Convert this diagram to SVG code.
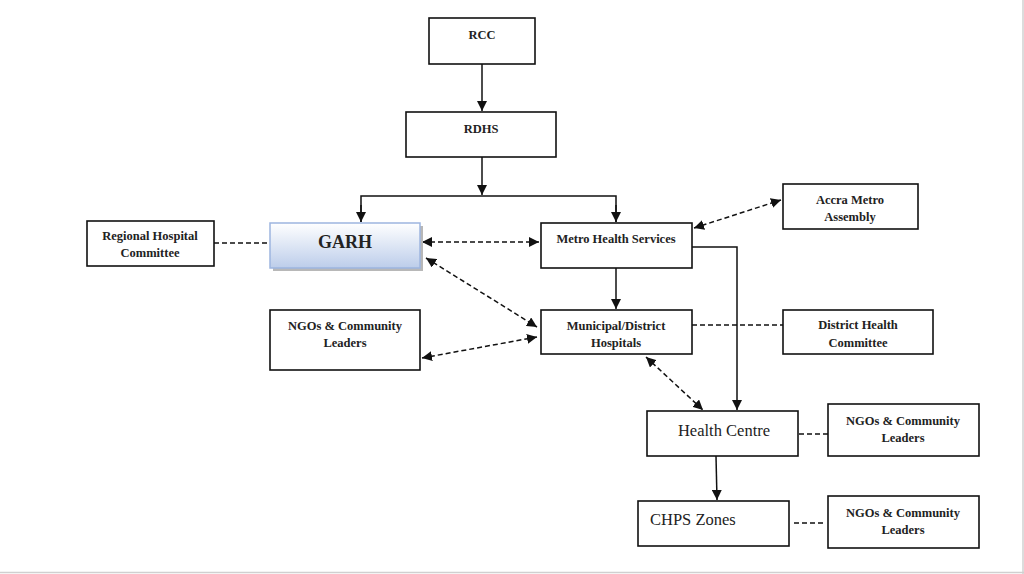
<svg xmlns="http://www.w3.org/2000/svg" width="1024" height="574" viewBox="0 0 1024 574">
<defs>
<style>
.box{fill:#fff;stroke:#111;stroke-width:1.6}
.t{font-family:"Liberation Serif","Times New Roman",serif;font-size:12.5px;font-weight:bold;fill:#222;text-anchor:middle}
.tl{font-family:"Liberation Serif","Times New Roman",serif;font-size:16.5px;fill:#222}
.s{fill:none;stroke:#111;stroke-width:1.5}
.d{fill:none;stroke:#111;stroke-width:1.5;stroke-dasharray:5,3}
</style>
<linearGradient id="g" x1="0" y1="0" x2="0" y2="1">
<stop offset="0" stop-color="#ffffff"/>
<stop offset="1" stop-color="#bccdea"/>
</linearGradient>
<marker id="b" viewBox="0 0 10 10" refX="10" refY="5" markerWidth="10" markerHeight="10" markerUnits="userSpaceOnUse" orient="auto-start-reverse">
<path d="M0,0 L10,5 L0,10 z" fill="#111"/>
</marker>
</defs>
<rect width="1024" height="574" fill="#fff"/>
<line x1="0" y1="572.5" x2="1024" y2="572.5" stroke="#d0d0d0" stroke-width="1.5"/>
<line x1="1023" y1="0" x2="1023" y2="574" stroke="#d0d0d0" stroke-width="1.5"/>

<g id="connectors">
<path class="s" d="M482,64 V111" marker-end="url(#b)"/>
<path class="s" d="M482,157 V195" marker-end="url(#b)"/>
<path class="s" d="M361,222 V196 H616 V222"/>
<path class="s" d="M361,205 V222" marker-end="url(#b)"/>
<path class="s" d="M616,205 V222" marker-end="url(#b)"/>
<path class="s" d="M616,268 V309" marker-end="url(#b)"/>
<path class="s" d="M692,247 H737 V410" marker-end="url(#b)"/>
<path class="s" d="M716,456 L717,500" marker-end="url(#b)"/>
<path class="d" d="M214,243 H270"/>
<path class="d" d="M422,242 H539" marker-start="url(#b)" marker-end="url(#b)"/>
<path class="d" d="M426,258 L537,327" marker-start="url(#b)" marker-end="url(#b)"/>
<path class="d" d="M422,358 L537,337" marker-start="url(#b)" marker-end="url(#b)"/>
<path class="d" d="M694,228 L781,200" marker-start="url(#b)" marker-end="url(#b)"/>
<path class="d" d="M692,325 H783"/>
<path class="d" d="M646,357 L703,410" marker-start="url(#b)" marker-end="url(#b)"/>
<path class="d" d="M799,434 H828"/>
<path class="d" d="M794,523 H826"/>
</g>

<g id="rcc"><rect class="box" x="429" y="18" width="106" height="46"/><text class="t" x="482" y="39">RCC</text></g>
<g id="rdhs"><rect class="box" x="406" y="112" width="150" height="45"/><text class="t" x="481" y="133">RDHS</text></g>
<g id="garh">
<rect x="273" y="226" width="150" height="45" fill="#b8b8b8"/>
<rect x="270" y="223" width="150" height="45" fill="url(#g)" stroke="#9db5df" stroke-width="1.5"/>
<text x="345" y="248" font-family="'Liberation Serif','Times New Roman',serif" font-size="18" font-weight="bold" fill="#222" text-anchor="middle">GARH</text>
</g>
<g id="rhc"><rect class="box" x="87" y="221" width="127" height="45"/><text class="t" x="150" y="240">Regional Hospital</text><text class="t" x="150" y="257">Committee</text></g>
<g id="metro"><rect class="box" x="541" y="223" width="151" height="45"/><text class="t" x="616" y="243">Metro Health Services</text></g>
<g id="ama"><rect class="box" x="783" y="184" width="135" height="45"/><text class="t" x="850" y="204">Accra Metro</text><text class="t" x="850" y="221">Assembly</text></g>
<g id="ngo1"><rect class="box" x="270" y="310" width="150" height="60"/><text class="t" x="345" y="330">NGOs &amp; Community</text><text class="t" x="345" y="347">Leaders</text></g>
<g id="mdh"><rect class="box" x="541" y="310" width="151" height="44"/><text class="t" x="616" y="330">Municipal/District</text><text class="t" x="616" y="347">Hospitals</text></g>
<g id="dhc"><rect class="box" x="783" y="310" width="150" height="44"/><text class="t" x="858" y="329">District Health</text><text class="t" x="858" y="347">Committee</text></g>
<g id="hc"><rect class="box" x="647" y="411" width="151" height="45"/><text class="tl" x="724" y="436" text-anchor="middle">Health Centre</text></g>
<g id="ngo2"><rect class="box" x="828" y="404" width="151" height="52"/><text class="t" x="903" y="425">NGOs &amp; Community</text><text class="t" x="903" y="442">Leaders</text></g>
<g id="chps"><rect class="box" x="638" y="501" width="151" height="45"/><text class="tl" x="650" y="525">CHPS Zones</text></g>
<g id="ngo3"><rect class="box" x="828" y="496" width="151" height="52"/><text class="t" x="903" y="517">NGOs &amp; Community</text><text class="t" x="903" y="534">Leaders</text></g>
</svg>
